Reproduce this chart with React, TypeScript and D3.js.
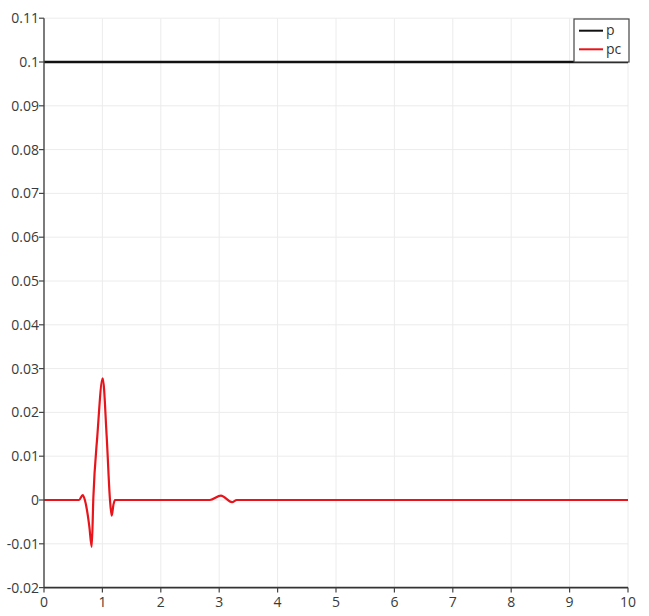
import React from "react"
import * as d3 from "d3"

const xTicks = [0, 1, 2, 3, 4, 5, 6, 7, 8, 9, 10]
const yTicks = [-0.02, -0.01, 0, 0.01, 0.02, 0.03, 0.04, 0.05, 0.06, 0.07, 0.08, 0.09, 0.1, 0.11]
const yLabels = ["-0.02", "-0.01", "0", "0.01", "0.02", "0.03", "0.04", "0.05", "0.06", "0.07", "0.08", "0.09", "0.1", "0.11"]

const pX = [0, 10]
const pY = [0.1, 0.1]

const pcX = [0, 0.6, 0.663, 0.7, 0.776, 0.817, 0.845, 0.913, 1.005, 1.073, 1.13, 1.159, 1.19, 1.216, 2.84, 3.03, 3.22, 3.3, 10]
const pcY = [0, 0, 0.0011, 0, -0.006, -0.0107, 0.0005, 0.0146, 0.0278, 0.0146, 0, -0.0036, -0.001, 0, 0, 0.001, -0.0005, 0, 0]

const seriesNames = ["p", "pc"]
const seriesColors = ["#111111", "#e8141b"]

const W = 649
const H = 616
const left = 44
const right = 628
const top = 18.2
const bottom = 587.6

export default function App() {
  const x = d3.scaleLinear().domain([0, 10]).range([left, right])
  const y = d3.scaleLinear().domain([-0.02, 0.11]).range([bottom, top])

  const line = d3.line<[number, number]>()
    .x(d => x(d[0]))
    .y(d => y(d[1]))
    .curve(d3.curveMonotoneX)

  const pData = pX.map((v, i) => [v, pY[i]] as [number, number])
  const pcData = pcX.map((v, i) => [v, pcY[i]] as [number, number])

  const font = "'Open Sans', 'DejaVu Sans', sans-serif"

  return (
    <svg width={W} height={H} style={{ position: "absolute", left: 0, top: 0, background: "#fff" }}>
      {/* grid */}
      <g stroke="#ececec" strokeWidth={1}>
        {xTicks.slice(1).map(t => (
          <line key={"gx" + t} x1={x(t)} x2={x(t)} y1={y(0.11)} y2={y(-0.02)} />
        ))}
        {yTicks.slice(1).map(t => (
          <line key={"gy" + t} x1={x(0)} x2={x(10)} y1={y(t)} y2={y(t)} />
        ))}
      </g>

      {/* series */}
      <path d={line(pData) || ""} fill="none" stroke={seriesColors[0]} strokeWidth={2.4} />
      <path d={line(pcData) || ""} fill="none" stroke={seriesColors[1]} strokeWidth={2.2} strokeLinejoin="round" />

      {/* y axis */}
      <g fontFamily={font} fontSize={14} fill="#3a3a3a">
        <line x1={left} x2={left} y1={y(0.11)} y2={y(-0.02)} stroke="#444" strokeWidth={1.4} />
        {yTicks.map((t, i) => (
          <g key={"yt" + t}>
            <line x1={left - 5} x2={left} y1={y(t)} y2={y(t)} stroke="#444" strokeWidth={1.2} />
            <text x={left - 5} y={y(t)} dy="0.35em" textAnchor="end">{yLabels[i]}</text>
          </g>
        ))}
      </g>

      {/* x axis */}
      <g fontFamily={font} fontSize={14} fill="#3a3a3a">
        <line x1={left} x2={right} y1={bottom} y2={bottom} stroke="#333" strokeWidth={1.6} />
        {xTicks.map(t => (
          <g key={"xt" + t}>
            <line x1={x(t)} x2={x(t)} y1={bottom} y2={bottom + 5} stroke="#444" strokeWidth={1.2} />
            <text x={x(t)} y={bottom + 19} textAnchor="middle">{t}</text>
          </g>
        ))}
      </g>

      {/* legend */}
      <g fontFamily={font} fontSize={14}>
        <rect x={574} y={19} width={55} height={43} fill="#fff" stroke="#444" strokeWidth={1.2} />
        {seriesNames.map((n, i) => (
          <g key={n} transform={`translate(0, ${30.7 + i * 18.6})`}>
            <line x1={579} x2={603} y1={0} y2={0} stroke={seriesColors[i]} strokeWidth={2} />
            <text x={606} y={0} dy="0.32em" fill="#333">{n}</text>
          </g>
        ))}
      </g>
    </svg>
  )
}
